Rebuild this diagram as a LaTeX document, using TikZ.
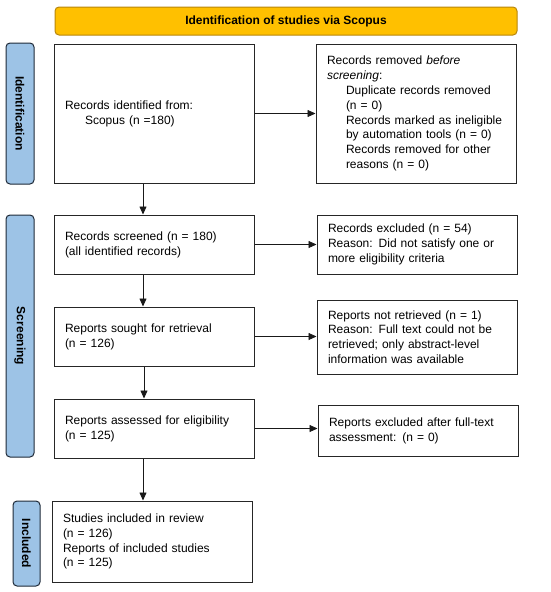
\documentclass[tikz,border=0pt]{standalone}
\usepackage{fontspec}
\setmainfont{Liberation Sans}
\usetikzlibrary{arrows.meta}
\usetikzlibrary{positioning}

\definecolor{bannerfill}{HTML}{FFC000}
\definecolor{bannerline}{HTML}{B8860B}
\definecolor{stagefill}{HTML}{9DC3E6}
\definecolor{stageline}{HTML}{1F2A38}

\tikzset{
  box/.style={rectangle,draw=black!85,line width=1pt,fill=white,minimum width=200pt,
    text width=178pt,inner xsep=11pt,align=left,
    font=\fontsize{12}{14.8}\selectfont},
  stage/.style={rectangle,rounded corners=4pt,draw=stageline,line width=1pt,fill=stagefill,
    rotate=-90,minimum height=28pt,inner sep=0pt,font=\fontsize{12}{13}\selectfont\bfseries},
  banner/.style={rectangle,rounded corners=4pt,draw=bannerline,line width=1pt,fill=bannerfill,
    minimum width=462pt,minimum height=28pt,font=\fontsize{12}{13}\selectfont\bfseries},
  arr/.style={-{Triangle[length=8pt,width=7pt]},line width=0.8pt,black!90}
}

\newcommand{\ind}{\hspace*{19pt}}

\begin{document}
\begin{tikzpicture}[x=1pt,y=-1pt]
\useasboundingbox (0,0) rectangle (550,592);

% header and stages
\node at (286,21)[banner](head){Identification of studies via Scopus};
\node at (20,113.5)[stage,minimum width=141pt](idn){Identification};
\node at (20,336)[stage,minimum width=242pt](scr){Screening};
\node at (26.5,543.5)[stage,minimum width=85pt,minimum height=27pt](inc){Included};

% left column
\node at (154,113.5)[box,minimum height=139pt](ident){Records identified from:\\\hspace*{20pt}Scopus (n =180)\\[10pt]};
\node at (154,244.5)[box,minimum height=59pt](screen){Records screened (n = 180)\\(all identified records)};
\node at (154,336.5)[box,minimum height=59pt](sought){Reports sought for retrieval\\(n = 126)};
\node at (154,428.5)[box,minimum height=59pt](assess){Reports assessed for eligibility\\(n = 125)};
\node at (152,541.5)[box,minimum height=81pt](incl){Studies included in review\\(n = 126)\\Reports of included studies\\(n = 125)};

% right column
\node at (416,113.5)[box,minimum height=139pt](removed){Records removed \emph{before}\\\emph{screening}:\\
\ind Duplicate records removed\\\ind(n = 0)\\\ind Records marked as ineligible\\\ind by automation tools (n = 0)\\
\ind Records removed for other\\\ind reasons (n = 0)};
\node at (417,244.5)[box,minimum height=59pt](excl){Records excluded (n = 54)\\Reason: Did not satisfy one or\\more eligibility criteria};
\node at (417,337)[box,minimum height=74pt](notret){Reports not retrieved (n = 1)\\Reason: Full text could not be\\retrieved; only abstract-level\\information was available};
\node at (418,430.5)[box,minimum height=51pt](fulltext){Reports excluded after full-text\\assessment: (n = 0)};

% arrows
\draw[arr] (ident) -- (removed);
\draw[arr] (screen) -- (excl);
\draw[arr] (sought) -- (sought -| notret.west);
\draw[arr] (assess) -- (assess -| fulltext.west);
\draw[arr] ([xshift=-11pt]ident.south) -- ([xshift=-11pt]screen.north);
\draw[arr] ([xshift=-11pt]screen.south) -- ([xshift=-11pt]sought.north);
\draw[arr] ([xshift=-10pt]sought.south) -- ([xshift=-10pt]assess.north);
\draw[arr] ([xshift=-11pt]assess.south) -- ([xshift=-11pt]assess.south |- incl.north);
\end{tikzpicture}
\end{document}
